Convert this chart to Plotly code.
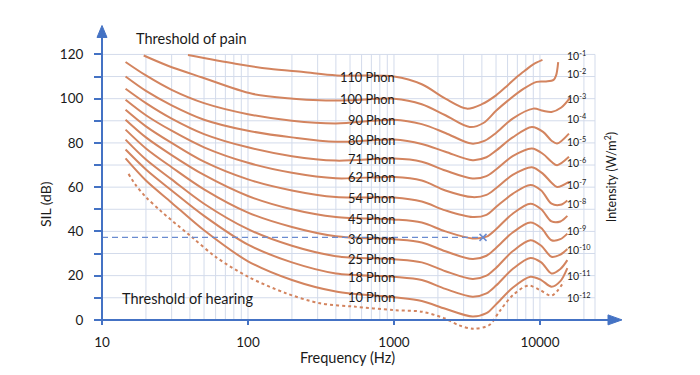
import math
import plotly.graph_objects as go

# ---------------- data ----------------
PHON_LEVELS = [10, 18, 25, 36, 45, 54, 62, 71, 80, 90, 100, 110]

F_THR = [15.2, 17, 20, 25, 30, 41, 60, 100, 183, 312, 532, 1000, 1550, 2200, 2800, 3500, 4500, 5300, 6550, 8300, 10000, 12000, 14600]
DB_THR = [66, 61, 55.5, 49.5, 45, 37.6, 28.5, 19.5, 12, 7.5, 6, 4.4, 3.7, 0.8, -2.5, -4, -2.3, 4, 11.3, 15.5, 13.5, 11, 17.3]

F_LOW = [14.5, 20, 30, 50, 100, 200, 400, 1000, 1550, 2250, 3450, 4300, 5000, 6500, 8600, 10200, 12000, 13800, 15400]
DB_10 = [73, 63, 53, 40.5, 26.5, 18, 12.8, 10.2, 8.5, 5, 1.5, 3, 7, 14.5, 19.5, 18, 15, 17.5, 23.4]
DB_18 = [77, 68, 58.5, 47, 34, 26, 21, 19.5, 18, 14, 10.5, 12, 15.5, 23, 28, 26, 21, 23, 27]
DB_25 = [81.5, 72.5, 63.5, 52.5, 41, 33.5, 28.8, 27.4, 26, 22, 18.5, 20, 23.5, 31, 36, 33.5, 28.5, 29.5, 32]
DB_36 = [86, 77.5, 69, 59, 48.5, 42, 37.8, 36.4, 35, 31, 27.5, 29, 32.5, 39.5, 44, 41.5, 36, 36.5, 39]
DB_45 = [90.5, 82.5, 74.5, 65.5, 56, 50, 46.5, 45.4, 44, 40, 36.8, 37.6, 41, 48, 52.5, 50, 44.5, 44.5, 47]
DB_54 = [95, 87.5, 80, 71.5, 63.5, 58.5, 55.5, 55.3, 53.5, 49.5, 46.5, 47.5, 51, 57, 61, 58.5, 52.5, 52, 54]

F_MID = [14.5, 20, 30, 50, 100, 200, 400, 1000, 1550, 2250, 3450, 4300, 5000, 6500, 8800, 10500, 12000, 13100, 15800]
DB_62 = [99.5, 92.5, 85.5, 78, 71, 66.5, 64, 64.6, 63, 58.5, 55.5, 56.5, 59.5, 65.5, 69, 66, 62, 60.1, 62.4]
DB_71 = [104.5, 98, 91, 84, 78, 74, 72, 72.9, 71.5, 67.5, 63.9, 65, 68, 74, 77.5, 75, 71.5, 69.9, 73.7]
DB_80 = [110, 103.5, 97, 90.5, 85.5, 82.5, 80.5, 81.5, 79.5, 76, 72.2, 73.5, 76.5, 82.5, 87.2, 85, 81, 79.7, 84.2]

F_90 = [14.5, 20, 30, 50, 100, 200, 400, 1000, 1550, 2250, 3400, 4200, 5000, 6500, 9000, 10500, 12000, 14000, 16200]
DB_90 = [116.6, 110.5, 104, 98, 93, 90, 88.8, 90.5, 88.5, 84.5, 79.7, 81, 84.5, 91, 95.5, 94.5, 94, 96, 100.7]

F_100 = [19.3, 28, 48, 107, 204, 310, 500, 1000, 1550, 2250, 3300, 4100, 5000, 6000, 7700, 9500, 11000, 12400, 12900, 13330]
DB_100 = [119.5, 115, 109.7, 102.2, 100, 99.3, 99.3, 100, 97.5, 92.5, 87.2, 89, 94.5, 99, 104.4, 107.6, 107.8, 108.5, 110.5, 116.5]

F_110 = [38.8, 82, 140, 240, 405, 1000, 1550, 2250, 3150, 4000, 5000, 6000, 7000, 8000, 9000, 10400]
DB_110 = [119.7, 115.8, 113.5, 112, 110.5, 110, 106.5, 100, 95.5, 97.5, 101.5, 106, 110, 113, 115.5, 117.5]

CURVES = [
    (10, F_LOW, DB_10), (18, F_LOW, DB_18), (25, F_LOW, DB_25), (36, F_LOW, DB_36),
    (45, F_LOW, DB_45), (54, F_LOW, DB_54), (62, F_MID, DB_62), (71, F_MID, DB_71),
    (80, F_MID, DB_80), (90, F_90, DB_90), (100, F_100, DB_100), (110, F_110, DB_110),
]

# example reading: 45 phon at 4 kHz has the same SIL as the threshold at ~40 Hz
MARK_F_START = 10
MARK_F_END = 4073
MARK_DB = 37.3

X_TICKS = [10, 100, 1000, 10000]
X_TICK_TEXT = ["10", "100", "1000", "10000"]
Y_TICKS = list(range(0, 121, 10))
Y_TICK_TEXT = [str(v) if v % 20 == 0 else "" for v in Y_TICKS]

INTENSITY_LABELS = ["10<sup>-1</sup>", "10<sup>-2</sup>", "10<sup>-3</sup>", "10<sup>-4</sup>",
                    "10<sup>-5</sup>", "10<sup>-6</sup>", "10<sup>-7</sup>", "10<sup>-8</sup>",
                    "10<sup>-9</sup>", "10<sup>-10</sup>", "10<sup>-11</sup>", "10<sup>-12</sup>"]
INTENSITY_LABEL_DB = [119.5, 111.4, 100.1, 91.1, 80.7, 71.3, 61.3, 52.8, 40.6, 31.6, 20.1, 10.1]

# ---------------- layout geometry ----------------
W, H = 700, 375
OFF = 8  # page body margin in the browser
Y0PX, PXDB = 320.0, 2.2167
YMIN, YMAX = -10, 122
ML = 102 - OFF
MR = 700 - 587
MT = (Y0PX - OFF) - YMAX * PXDB
MB = H - ((Y0PX - OFF) - YMIN * PXDB)
XMIN, XMAX = 1.0, 4.377
PW = W - ML - MR
PH = H - MT - MB

CURVE = "#D3845F"
AX = "#4472C4"
GRID = "#D3DBEB"
TXT = "#1a1a1a"
FONT = "Lato"


def px(xp):
    return (xp - OFF - ML) / PW


def py(yp):
    return (H - MB - (yp - OFF)) / PH


def fx_paper(freq):
    return (math.log10(freq) - XMIN) / (XMAX - XMIN)


def dy_paper(db):
    return (db - YMIN) / (YMAX - YMIN)


fig = go.Figure()

# grid (axis decoration), in paper units derived from the axis ranges
shapes = []
for v in Y_TICKS:
    shapes.append(dict(type="line", xref="paper", yref="paper", x0=0, x1=1,
                       y0=dy_paper(v), y1=dy_paper(v),
                       line=dict(color=GRID, width=1), layer="below"))
for d in [10, 100, 1000, 10000]:
    for m in range(1, 10):
        f = d * m
        if 10 < f < 10 ** XMAX:
            shapes.append(dict(type="line", xref="paper", yref="paper",
                               x0=fx_paper(f), x1=fx_paper(f), y0=dy_paper(0), y1=dy_paper(120),
                               line=dict(color=GRID, width=1), layer="below"))
shapes.append(dict(type="line", xref="paper", yref="paper", x0=1, x1=1,
                   y0=dy_paper(0), y1=dy_paper(120), line=dict(color=GRID, width=1), layer="below"))

# axis lines with arrows
shapes.append(dict(type="line", xref="paper", yref="paper", x0=px(102), x1=px(102), y0=py(320), y1=py(34),
                   line=dict(color=AX, width=2)))
shapes.append(dict(type="path", xref="paper", yref="paper",
                   path=f"M {px(102)},{py(25)} L {px(97)},{py(37)} L {px(107)},{py(37)} Z",
                   fillcolor=AX, line=dict(color=AX, width=1)))
shapes.append(dict(type="line", xref="paper", yref="paper", x0=px(96), x1=px(610), y0=py(320), y1=py(320),
                   line=dict(color=AX, width=2)))
shapes.append(dict(type="path", xref="paper", yref="paper",
                   path=f"M {px(622)},{py(320)} L {px(608)},{py(315)} L {px(608)},{py(325)} Z",
                   fillcolor=AX, line=dict(color=AX, width=1)))

# curves
fig.add_trace(go.Scatter(x=F_THR, y=DB_THR, mode="lines",
                         line=dict(color=CURVE, width=2, dash="dot", shape="spline", smoothing=0.9),
                         hoverinfo="skip", showlegend=False))
for lvl, fx, dbs in CURVES:
    fig.add_trace(go.Scatter(x=fx, y=dbs, mode="lines", name=f"{lvl} Phon",
                             line=dict(color=CURVE, width=2, shape="spline", smoothing=0.9),
                             showlegend=False))

# dashed example reading
fig.add_trace(go.Scatter(x=[MARK_F_START, MARK_F_END], y=[MARK_DB, MARK_DB], mode="lines",
                         line=dict(color="#6A8BD0", width=1.4, dash="6px,4px"),
                         hoverinfo="skip", showlegend=False))
fig.add_trace(go.Scatter(x=[MARK_F_END], y=[MARK_DB], mode="markers",
                         marker=dict(symbol="x-thin", size=7, line=dict(color="#6A8BD0", width=1.5)),
                         hoverinfo="skip", showlegend=False))

ann = []
for lvl, fx, dbs in CURVES:
    ann.append(dict(x=math.log10(1050), y=dbs[fx.index(1000)], xref="x", yref="y",
                    text=f"{lvl} Phon", showarrow=False, xanchor="right", yanchor="middle",
                    font=dict(family=FONT, size=12.8, color=TXT)))
for t, v in zip(INTENSITY_LABELS, INTENSITY_LABEL_DB):
    ann.append(dict(x=px(565), y=v, xref="paper", yref="y", text=t, showarrow=False,
                    xanchor="left", yanchor="middle", font=dict(family=FONT, size=10.5, color=TXT)))


def label(text, xp, yp, size, angle=0):
    ann.append(dict(x=px(xp), y=py(yp), xref="paper", yref="paper", text=text, textangle=angle,
                    showarrow=False, xanchor="center", yanchor="middle",
                    font=dict(family=FONT, size=size, color=TXT)))


label("Threshold of pain", 191, 38, 14.5)
label("Threshold of hearing", 187.5, 298.5, 14.5)
label("Frequency (Hz)", 347.5, 358, 14.5)
label("SIL (dB)", 45, 204, 14, -90)
label("Intensity (W/m<sup>2</sup>)", 610, 177, 12.5, -90)

fig.update_layout(
    width=W, height=H,
    margin=dict(l=ML, r=MR, t=MT, b=MB, pad=0),
    paper_bgcolor="white", plot_bgcolor="rgba(0,0,0,0)",
    shapes=shapes, annotations=ann,
    xaxis=dict(type="log", range=[XMIN, XMAX], tickvals=X_TICKS, ticktext=X_TICK_TEXT,
               ticks="outside", ticklen=4, tickwidth=1.5, tickcolor=AX,
               showgrid=False, zeroline=False, showline=False,
               anchor="free", position=(0 - YMIN) / (YMAX - YMIN),
               ticklabelstandoff=6,
               tickfont=dict(family=FONT, size=13.5, color=TXT)),
    yaxis=dict(range=[YMIN, YMAX], tickvals=Y_TICKS, ticktext=Y_TICK_TEXT,
               ticks="outside", ticklen=7, tickwidth=1.5, tickcolor=AX,
               showgrid=False, zeroline=False, showline=False,
               ticklabelstandoff=8,
               tickfont=dict(family=FONT, size=13.5, color=TXT)),
)

fig.write_html("out.html")
